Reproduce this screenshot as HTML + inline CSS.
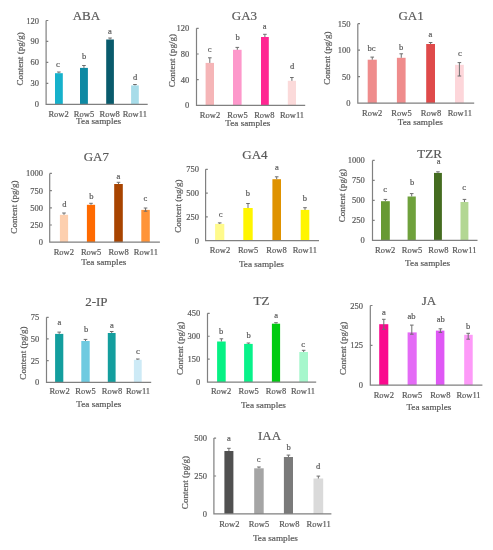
<!DOCTYPE html>
<html><head><meta charset="utf-8"><title>Tea sample hormone content</title>
<style>
html,body{margin:0;padding:0;background:#fff;}
body{width:493px;height:550px;overflow:hidden;}
svg{display:block;filter:blur(0.35px);}
text{font-family:"Liberation Serif","Times New Roman",serif;fill:#595959;stroke:#595959;stroke-width:0.2px;}
</style></head>
<body>
<svg width="493" height="550" viewBox="0 0 493 550">
<rect width="493" height="550" fill="#fff"/>
<g><rect x="55" y="73.2" width="7.8" height="31.1" fill="#16b1cb"/><rect x="80" y="67.9" width="7.9" height="36.4" fill="#0e89a3"/><rect x="106.2" y="39.5" width="7.7" height="64.8" fill="#095b6c"/><rect x="131.1" y="85.4" width="7.7" height="18.9" fill="#a7dce9"/><path d="M58.9 72V73.2M57.1 72H60.7" stroke="#6e6e6e" stroke-width="1" fill="none"/><path d="M83.95 65.5V67.9M82.15 65.5H85.75" stroke="#6e6e6e" stroke-width="1" fill="none"/><path d="M110.05 38V39.5M108.25 38H111.85" stroke="#6e6e6e" stroke-width="1" fill="none"/><path d="M134.95 84.5V85.4M133.15 84.5H136.75" stroke="#6e6e6e" stroke-width="1" fill="none"/><path d="M46.1 20.5V104.3H147.7M46.1 83.35H48.3M46.1 62.4H48.3M46.1 41.45H48.3M46.1 20.5H48.3" stroke="#808080" stroke-width="1.2" fill="none"/><text x="39" y="107.3" font-size="8.5" text-anchor="end">0</text><text x="39" y="86.35" font-size="8.5" text-anchor="end">30</text><text x="39" y="65.4" font-size="8.5" text-anchor="end">60</text><text x="39" y="44.45" font-size="8.5" text-anchor="end">90</text><text x="39" y="23.5" font-size="8.5" text-anchor="end">120</text><text x="58" y="66.5" font-size="8.5" text-anchor="middle">c</text><text x="84" y="59.4" font-size="8.5" text-anchor="middle">b</text><text x="110" y="33.7" font-size="8.5" text-anchor="middle">a</text><text x="135" y="79.7" font-size="8.5" text-anchor="middle">d</text><text x="86.4" y="19.7" font-size="13.0" text-anchor="middle">ABA</text><text x="58.6" y="117" font-size="8.5" text-anchor="middle">Row2</text><text x="84" y="117" font-size="8.5" text-anchor="middle">Row5</text><text x="109.7" y="117" font-size="8.5" text-anchor="middle">Row8</text><text x="134.8" y="117" font-size="8.5" text-anchor="middle">Row11</text><text x="98.6" y="124.1" font-size="9.2" text-anchor="middle">Tea samples</text><text transform="translate(22.6 58.8) rotate(-90)" font-size="9.1" text-anchor="middle">Content (pg/g)</text></g>
<g><rect x="205.6" y="62.9" width="8.4" height="42.5" fill="#f5b5b7"/><rect x="233" y="49.8" width="8.6" height="55.6" fill="#fd98cb"/><rect x="261" y="37" width="7.8" height="68.4" fill="#ff2692"/><rect x="287.8" y="80.8" width="8.2" height="24.6" fill="#fbdada"/><path d="M209.8 57.8V62.9M208 57.8H211.6" stroke="#6e6e6e" stroke-width="1" fill="none"/><path d="M237.3 47.4V49.8M235.5 47.4H239.1" stroke="#6e6e6e" stroke-width="1" fill="none"/><path d="M264.9 34.3V37M263.1 34.3H266.7" stroke="#6e6e6e" stroke-width="1" fill="none"/><path d="M291.9 77.5V80.8M290.1 77.5H293.7" stroke="#6e6e6e" stroke-width="1" fill="none"/><path d="M196.5 28.3V105.4H305.2M196.5 79.7H198.7M196.5 54H198.7M196.5 28.3H198.7" stroke="#808080" stroke-width="1.2" fill="none"/><text x="189.2" y="108.4" font-size="8.5" text-anchor="end">0</text><text x="189.2" y="82.7" font-size="8.5" text-anchor="end">40</text><text x="189.2" y="57" font-size="8.5" text-anchor="end">80</text><text x="189.2" y="31.3" font-size="8.5" text-anchor="end">120</text><text x="209.7" y="52.4" font-size="8.5" text-anchor="middle">c</text><text x="237.6" y="40.1" font-size="8.5" text-anchor="middle">b</text><text x="264.6" y="28.8" font-size="8.5" text-anchor="middle">a</text><text x="292" y="69.3" font-size="8.5" text-anchor="middle">d</text><text x="244.4" y="20.2" font-size="13.0" text-anchor="middle">GA3</text><text x="210" y="118.3" font-size="8.5" text-anchor="middle">Row2</text><text x="237.5" y="118.3" font-size="8.5" text-anchor="middle">Row5</text><text x="264.3" y="118.3" font-size="8.5" text-anchor="middle">Row8</text><text x="292" y="118.3" font-size="8.5" text-anchor="middle">Row11</text><text x="247.8" y="126" font-size="9.2" text-anchor="middle">Tea samples</text><text transform="translate(174.8 60.6) rotate(-90)" font-size="9.1" text-anchor="middle">Content (pg/g)</text></g>
<g><rect x="367.7" y="59.7" width="9.1" height="43.4" fill="#ef8c8c"/><rect x="396.9" y="57.8" width="8.7" height="45.3" fill="#ef8c8c"/><rect x="426.2" y="44" width="8.8" height="59.1" fill="#df4a4a"/><rect x="455" y="64.8" width="8.8" height="38.3" fill="#fdd6da"/><path d="M372.25 57.1V59.7M370.45 57.1H374.05" stroke="#6e6e6e" stroke-width="1" fill="none"/><path d="M401.25 53.8V57.8M399.45 53.8H403.05" stroke="#6e6e6e" stroke-width="1" fill="none"/><path d="M430.6 42.5V44M428.8 42.5H432.4" stroke="#6e6e6e" stroke-width="1" fill="none"/><path d="M459.4 62.6V76M457.6 62.6H461.2M457.6 76H461.2" stroke="#6e6e6e" stroke-width="1" fill="none"/><path d="M357.8 23.7V103.1H474.2M357.8 76.63H360M357.8 50.17H360M357.8 23.7H360" stroke="#808080" stroke-width="1.2" fill="none"/><text x="350.5" y="106.1" font-size="8.5" text-anchor="end">0</text><text x="350.5" y="79.63" font-size="8.5" text-anchor="end">50</text><text x="350.5" y="53.17" font-size="8.5" text-anchor="end">100</text><text x="350.5" y="26.7" font-size="8.5" text-anchor="end">150</text><text x="371.4" y="51.1" font-size="8.5" text-anchor="middle">bc</text><text x="401" y="49.8" font-size="8.5" text-anchor="middle">b</text><text x="430.4" y="36.5" font-size="8.5" text-anchor="middle">a</text><text x="460" y="55.6" font-size="8.5" text-anchor="middle">c</text><text x="411.1" y="19.5" font-size="13.0" text-anchor="middle">GA1</text><text x="372.2" y="115.7" font-size="8.5" text-anchor="middle">Row2</text><text x="401.5" y="115.7" font-size="8.5" text-anchor="middle">Row5</text><text x="431" y="115.7" font-size="8.5" text-anchor="middle">Row8</text><text x="459.8" y="115.7" font-size="8.5" text-anchor="middle">Row11</text><text x="420.3" y="125.4" font-size="9.2" text-anchor="middle">Tea samples</text><text transform="translate(330.3 58.2) rotate(-90)" font-size="9.1" text-anchor="middle">Content (pg/g)</text></g>
<g><rect x="59.9" y="214.8" width="8.2" height="27.4" fill="#fdcfae"/><rect x="86.9" y="204.8" width="8.2" height="37.4" fill="#ff6a00"/><rect x="114.2" y="184" width="8.6" height="58.2" fill="#a84400"/><rect x="141.3" y="209.9" width="8.5" height="32.3" fill="#ff9438"/><path d="M64 213V214.8M62.2 213H65.8" stroke="#6e6e6e" stroke-width="1" fill="none"/><path d="M91 203.3V204.8M89.2 203.3H92.8" stroke="#6e6e6e" stroke-width="1" fill="none"/><path d="M118.5 182.3V184M116.7 182.3H120.3" stroke="#6e6e6e" stroke-width="1" fill="none"/><path d="M145.55 208V211.2M143.75 208H147.35M143.75 211.2H147.35" stroke="#6e6e6e" stroke-width="1" fill="none"/><path d="M49.7 173.4V242.2H159.9M49.7 225H51.9M49.7 207.8H51.9M49.7 190.6H51.9M49.7 173.4H51.9" stroke="#808080" stroke-width="1.2" fill="none"/><text x="42.9" y="245.2" font-size="8.5" text-anchor="end">0</text><text x="42.9" y="228" font-size="8.5" text-anchor="end">250</text><text x="42.9" y="210.8" font-size="8.5" text-anchor="end">500</text><text x="42.9" y="193.6" font-size="8.5" text-anchor="end">750</text><text x="42.9" y="176.4" font-size="8.5" text-anchor="end">1000</text><text x="64.3" y="206.6" font-size="8.5" text-anchor="middle">d</text><text x="91.4" y="198.9" font-size="8.5" text-anchor="middle">b</text><text x="118.4" y="178.8" font-size="8.5" text-anchor="middle">a</text><text x="145.3" y="201.1" font-size="8.5" text-anchor="middle">c</text><text x="96.3" y="161" font-size="13.0" text-anchor="middle">GA7</text><text x="63.8" y="255" font-size="8.5" text-anchor="middle">Row2</text><text x="91.1" y="255" font-size="8.5" text-anchor="middle">Row5</text><text x="118.6" y="255" font-size="8.5" text-anchor="middle">Row8</text><text x="145.9" y="255" font-size="8.5" text-anchor="middle">Row11</text><text x="103.8" y="264.6" font-size="9.2" text-anchor="middle">Tea samples</text><text transform="translate(17 207) rotate(-90)" font-size="9.1" text-anchor="middle">Content (pg/g)</text></g>
<g><rect x="215.1" y="223.9" width="9.2" height="16.8" fill="#fffa8c"/><rect x="243.3" y="208" width="9.4" height="32.7" fill="#fff500"/><rect x="272.4" y="179.2" width="8.6" height="61.5" fill="#df9200"/><rect x="300.7" y="209.9" width="8.6" height="30.8" fill="#fff500"/><path d="M219.7 222.9V223.9M217.9 222.9H221.5" stroke="#6e6e6e" stroke-width="1" fill="none"/><path d="M248 203.5V208M246.2 203.5H249.8" stroke="#6e6e6e" stroke-width="1" fill="none"/><path d="M276.7 176.8V179.2M274.9 176.8H278.5" stroke="#6e6e6e" stroke-width="1" fill="none"/><path d="M305 207.7V209.9M303.2 207.7H306.8" stroke="#6e6e6e" stroke-width="1" fill="none"/><path d="M205.6 169.3V240.7H319M205.6 216.9H207.8M205.6 193.1H207.8M205.6 169.3H207.8" stroke="#808080" stroke-width="1.2" fill="none"/><text x="198.9" y="243.7" font-size="8.5" text-anchor="end">0</text><text x="198.9" y="219.9" font-size="8.5" text-anchor="end">250</text><text x="198.9" y="196.1" font-size="8.5" text-anchor="end">500</text><text x="198.9" y="172.3" font-size="8.5" text-anchor="end">750</text><text x="220.6" y="216.6" font-size="8.5" text-anchor="middle">c</text><text x="247.8" y="195.6" font-size="8.5" text-anchor="middle">b</text><text x="277" y="170.1" font-size="8.5" text-anchor="middle">a</text><text x="304.9" y="200.7" font-size="8.5" text-anchor="middle">b</text><text x="254.9" y="159.1" font-size="13.0" text-anchor="middle">GA4</text><text x="220" y="253.2" font-size="8.5" text-anchor="middle">Row2</text><text x="248.1" y="253.2" font-size="8.5" text-anchor="middle">Row5</text><text x="276.5" y="253.2" font-size="8.5" text-anchor="middle">Row8</text><text x="304.8" y="253.2" font-size="8.5" text-anchor="middle">Row11</text><text x="261.4" y="266.9" font-size="9.2" text-anchor="middle">Tea samples</text><text transform="translate(181.2 206.1) rotate(-90)" font-size="9.1" text-anchor="middle">Content (ng/g)</text></g>
<g><rect x="381" y="201.2" width="8.8" height="39.1" fill="#679a33"/><rect x="407.6" y="196.5" width="8.2" height="43.8" fill="#6fa13c"/><rect x="434" y="172.9" width="7.9" height="67.4" fill="#446c20"/><rect x="460.5" y="202" width="7.9" height="38.3" fill="#b3d793"/><path d="M385.4 199.4V201.2M383.6 199.4H387.2" stroke="#6e6e6e" stroke-width="1" fill="none"/><path d="M411.7 193.6V196.5M409.9 193.6H413.5" stroke="#6e6e6e" stroke-width="1" fill="none"/><path d="M437.95 171.8V172.9M436.15 171.8H439.75" stroke="#6e6e6e" stroke-width="1" fill="none"/><path d="M464.45 199.4V202M462.65 199.4H466.25" stroke="#6e6e6e" stroke-width="1" fill="none"/><path d="M372.5 160.4V240.3H477.5M372.5 220.33H374.7M372.5 200.35H374.7M372.5 180.38H374.7M372.5 160.4H374.7" stroke="#808080" stroke-width="1.2" fill="none"/><text x="364.8" y="243.3" font-size="8.5" text-anchor="end">0</text><text x="364.8" y="223.33" font-size="8.5" text-anchor="end">250</text><text x="364.8" y="203.35" font-size="8.5" text-anchor="end">500</text><text x="364.8" y="183.38" font-size="8.5" text-anchor="end">750</text><text x="364.8" y="163.4" font-size="8.5" text-anchor="end">1000</text><text x="385.2" y="191.5" font-size="8.5" text-anchor="middle">c</text><text x="412.1" y="185.2" font-size="8.5" text-anchor="middle">b</text><text x="438.6" y="164.2" font-size="8.5" text-anchor="middle">a</text><text x="464.2" y="189.7" font-size="8.5" text-anchor="middle">c</text><text x="429.6" y="157.8" font-size="13.0" text-anchor="middle">TZR</text><text x="385.2" y="253" font-size="8.5" text-anchor="middle">Row2</text><text x="412" y="253" font-size="8.5" text-anchor="middle">Row5</text><text x="438.4" y="253" font-size="8.5" text-anchor="middle">Row8</text><text x="464.3" y="253" font-size="8.5" text-anchor="middle">Row11</text><text x="427.6" y="266.4" font-size="9.2" text-anchor="middle">Tea samples</text><text transform="translate(345.3 195.6) rotate(-90)" font-size="9.1" text-anchor="middle">Content (pg/g)</text></g>
<g><rect x="55.1" y="333.9" width="8.2" height="48.4" fill="#139e9e"/><rect x="81.3" y="341" width="8.4" height="41.3" fill="#6ecae0"/><rect x="107.8" y="333" width="7.8" height="49.3" fill="#139e9e"/><rect x="133.9" y="359.8" width="7.8" height="22.5" fill="#cdeaf6"/><path d="M59.2 332.1V333.9M57.4 332.1H61" stroke="#6e6e6e" stroke-width="1" fill="none"/><path d="M85.5 339.4V341M83.7 339.4H87.3" stroke="#6e6e6e" stroke-width="1" fill="none"/><path d="M111.7 331.5V333M109.9 331.5H113.5" stroke="#6e6e6e" stroke-width="1" fill="none"/><path d="M137.8 359V359.8M136 359H139.6" stroke="#6e6e6e" stroke-width="1" fill="none"/><path d="M46.5 317.3V382.3H151.2M46.5 360.63H48.7M46.5 338.97H48.7M46.5 317.3H48.7" stroke="#808080" stroke-width="1.2" fill="none"/><text x="39.2" y="385.3" font-size="8.5" text-anchor="end">0</text><text x="39.2" y="363.63" font-size="8.5" text-anchor="end">25</text><text x="39.2" y="341.97" font-size="8.5" text-anchor="end">50</text><text x="39.2" y="320.3" font-size="8.5" text-anchor="end">75</text><text x="59.3" y="325.1" font-size="8.5" text-anchor="middle">a</text><text x="86.1" y="331.5" font-size="8.5" text-anchor="middle">b</text><text x="112" y="327.5" font-size="8.5" text-anchor="middle">a</text><text x="137.9" y="354.3" font-size="8.5" text-anchor="middle">c</text><text x="96.4" y="305.6" font-size="13.0" text-anchor="middle">2-IP</text><text x="59.6" y="394.2" font-size="8.5" text-anchor="middle">Row2</text><text x="85.5" y="394.2" font-size="8.5" text-anchor="middle">Row5</text><text x="112" y="394.2" font-size="8.5" text-anchor="middle">Row8</text><text x="138" y="394.2" font-size="8.5" text-anchor="middle">Row11</text><text x="98.8" y="407.4" font-size="9.2" text-anchor="middle">Tea samples</text><text transform="translate(26.1 353) rotate(-90)" font-size="9.1" text-anchor="middle">Content (pg/g)</text></g>
<g><rect x="217.1" y="341.5" width="8.6" height="40.6" fill="#06f184"/><rect x="244.1" y="343.9" width="8.6" height="38.2" fill="#08f28a"/><rect x="271.9" y="323.7" width="8.2" height="58.4" fill="#00cb10"/><rect x="299.3" y="352" width="8.7" height="30.1" fill="#a6f7cc"/><path d="M221.4 338.8V341.5M219.6 338.8H223.2" stroke="#6e6e6e" stroke-width="1" fill="none"/><path d="M248.4 343V343.9M246.6 343H250.2" stroke="#6e6e6e" stroke-width="1" fill="none"/><path d="M276 322.7V323.7M274.2 322.7H277.8" stroke="#6e6e6e" stroke-width="1" fill="none"/><path d="M303.65 350.3V352M301.85 350.3H305.45" stroke="#6e6e6e" stroke-width="1" fill="none"/><path d="M207.5 313.3V382.1H316.2M207.5 359.17H209.7M207.5 336.23H209.7M207.5 313.3H209.7" stroke="#808080" stroke-width="1.2" fill="none"/><text x="200.2" y="385.1" font-size="8.5" text-anchor="end">0</text><text x="200.2" y="362.17" font-size="8.5" text-anchor="end">150</text><text x="200.2" y="339.23" font-size="8.5" text-anchor="end">300</text><text x="200.2" y="316.3" font-size="8.5" text-anchor="end">450</text><text x="221.2" y="333.9" font-size="8.5" text-anchor="middle">b</text><text x="248.7" y="338.4" font-size="8.5" text-anchor="middle">b</text><text x="276.1" y="317.8" font-size="8.5" text-anchor="middle">a</text><text x="303.1" y="347" font-size="8.5" text-anchor="middle">c</text><text x="261.5" y="305" font-size="13.0" text-anchor="middle">TZ</text><text x="221.1" y="394.3" font-size="8.5" text-anchor="middle">Row2</text><text x="248.7" y="394.3" font-size="8.5" text-anchor="middle">Row5</text><text x="276" y="394.3" font-size="8.5" text-anchor="middle">Row8</text><text x="303" y="394.3" font-size="8.5" text-anchor="middle">Row11</text><text x="263.4" y="408.4" font-size="9.2" text-anchor="middle">Tea samples</text><text transform="translate(182.6 348.4) rotate(-90)" font-size="9.1" text-anchor="middle">Content (pg/g)</text></g>
<g><rect x="379.2" y="324.2" width="9.1" height="61" fill="#fa0a8e"/><rect x="407.6" y="332.4" width="9.1" height="52.8" fill="#e46bf6"/><rect x="435.9" y="330.6" width="8.5" height="54.6" fill="#df58f5"/><rect x="464.2" y="334.8" width="8.5" height="50.4" fill="#fd9af8"/><path d="M383.8 319.3V329.3M382 319.3H385.6M382 329.3H385.6" stroke="#6e6e6e" stroke-width="1" fill="none"/><path d="M411.8 325.1V334.2M410 325.1H413.6M410 334.2H413.6" stroke="#6e6e6e" stroke-width="1" fill="none"/><path d="M440.4 328.8V332.4M438.6 328.8H442.2M438.6 332.4H442.2" stroke="#6e6e6e" stroke-width="1" fill="none"/><path d="M468.2 333.3V339.2M466.4 333.3H470M466.4 339.2H470" stroke="#6e6e6e" stroke-width="1" fill="none"/><path d="M370.3 305.5V385.2H482.4M370.3 345.35H372.5M370.3 305.5H372.5" stroke="#808080" stroke-width="1.2" fill="none"/><text x="363" y="388.2" font-size="8.5" text-anchor="end">0</text><text x="363" y="348.35" font-size="8.5" text-anchor="end">125</text><text x="363" y="308.5" font-size="8.5" text-anchor="end">250</text><text x="383.8" y="315.4" font-size="8.5" text-anchor="middle">a</text><text x="411.6" y="318.7" font-size="8.5" text-anchor="middle">ab</text><text x="440.8" y="322.4" font-size="8.5" text-anchor="middle">ab</text><text x="468.2" y="328.8" font-size="8.5" text-anchor="middle">b</text><text x="428.9" y="305" font-size="13.0" text-anchor="middle">JA</text><text x="383.8" y="397.7" font-size="8.5" text-anchor="middle">Row2</text><text x="412.1" y="397.7" font-size="8.5" text-anchor="middle">Row5</text><text x="440.3" y="397.7" font-size="8.5" text-anchor="middle">Row8</text><text x="468.5" y="397.7" font-size="8.5" text-anchor="middle">Row11</text><text x="428.9" y="409.9" font-size="9.2" text-anchor="middle">Tea samples</text><text transform="translate(346.4 348.4) rotate(-90)" font-size="9.1" text-anchor="middle">Content (pg/g)</text></g>
<g><rect x="224.4" y="451" width="9" height="62.9" fill="#505050"/><rect x="254.2" y="468.3" width="9.5" height="45.6" fill="#a5a5a5"/><rect x="283.9" y="457" width="9.1" height="56.9" fill="#7a7a7a"/><rect x="313.5" y="478.5" width="9.7" height="35.4" fill="#dadada"/><path d="M228.9 448.3V451M227.1 448.3H230.7" stroke="#6e6e6e" stroke-width="1" fill="none"/><path d="M258.95 467V468.3M257.15 467H260.75" stroke="#6e6e6e" stroke-width="1" fill="none"/><path d="M288.45 455.1V457M286.65 455.1H290.25" stroke="#6e6e6e" stroke-width="1" fill="none"/><path d="M318.35 476.1V478.5M316.55 476.1H320.15" stroke="#6e6e6e" stroke-width="1" fill="none"/><path d="M213.9 438.1V513.9H331.4M213.9 476H216.1M213.9 438.1H216.1" stroke="#808080" stroke-width="1.2" fill="none"/><text x="207.1" y="516.9" font-size="8.5" text-anchor="end">0</text><text x="207.1" y="479" font-size="8.5" text-anchor="end">250</text><text x="207.1" y="441.1" font-size="8.5" text-anchor="end">500</text><text x="228.8" y="441.3" font-size="8.5" text-anchor="middle">a</text><text x="258.7" y="462.4" font-size="8.5" text-anchor="middle">c</text><text x="288.5" y="450.2" font-size="8.5" text-anchor="middle">b</text><text x="318.1" y="468.8" font-size="8.5" text-anchor="middle">d</text><text x="269.6" y="439.6" font-size="13.0" text-anchor="middle">IAA</text><text x="229.3" y="526.8" font-size="8.5" text-anchor="middle">Row2</text><text x="259" y="526.8" font-size="8.5" text-anchor="middle">Row5</text><text x="289.3" y="526.8" font-size="8.5" text-anchor="middle">Row8</text><text x="318.6" y="526.8" font-size="8.5" text-anchor="middle">Row11</text><text x="275.4" y="541" font-size="9.2" text-anchor="middle">Tea samples</text><text transform="translate(188.1 482.5) rotate(-90)" font-size="9.1" text-anchor="middle">Content (pg/g)</text></g>
</svg>
</body></html>
